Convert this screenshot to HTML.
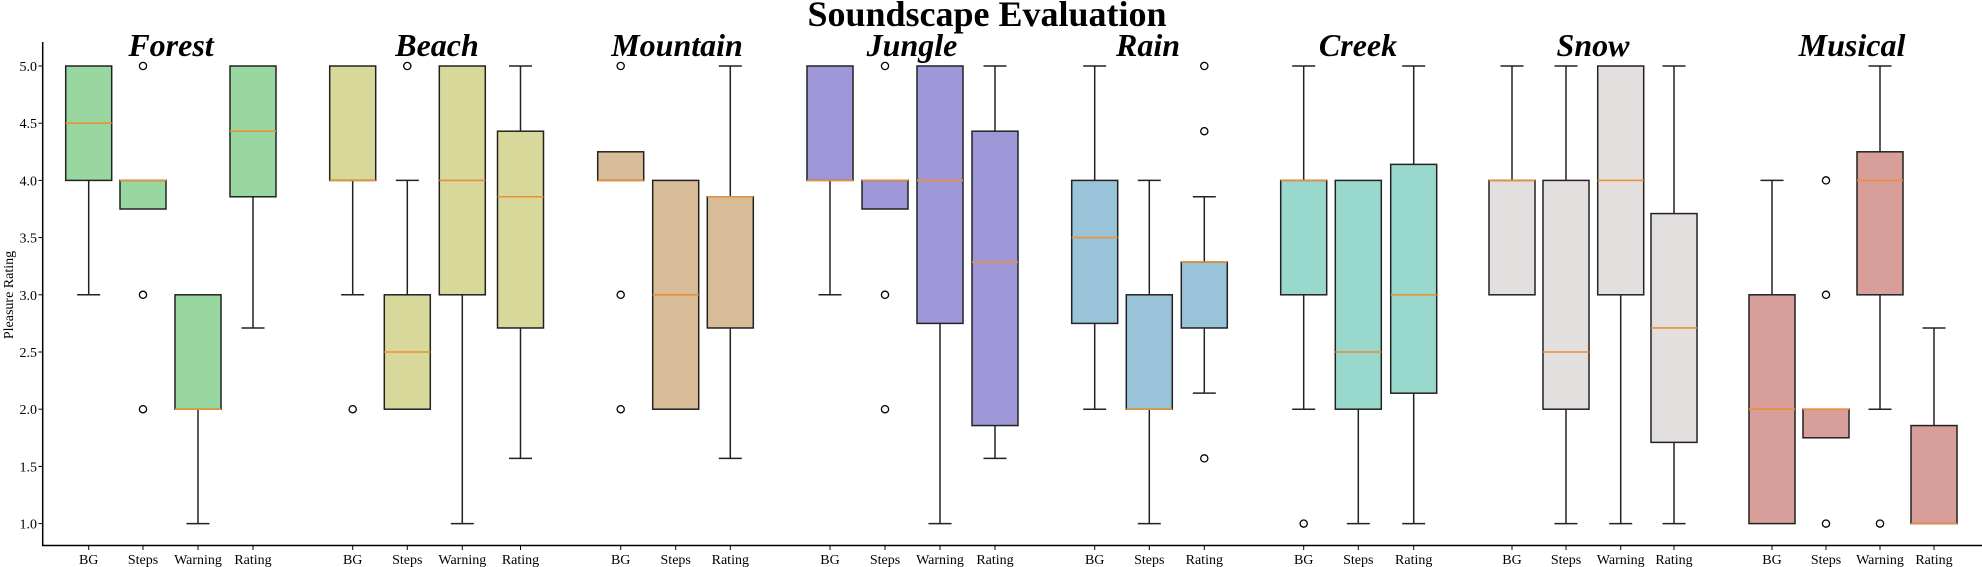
<!DOCTYPE html>
<html><head><meta charset="utf-8"><style>
html,body{margin:0;padding:0;background:#fff;}
svg{display:block;}
text{font-family:"Liberation Serif",serif;}
</style></head><body>
<svg id="s" width="1982" height="567" xmlns="http://www.w3.org/2000/svg"></svg>
<script>
const s=document.getElementById('s');
const NS='http://www.w3.org/2000/svg';
function el(t,a,txt){const e=document.createElementNS(NS,t);for(const k in a)e.setAttribute(k,a[k]);if(txt!==undefined)e.textContent=txt;s.appendChild(e);return e;}
const Y=v=>66+(5-v)*114.4;
// title
el('text',{x:987,y:26,'text-anchor':'middle','font-size':36,'font-weight':'bold'},'Soundscape Evaluation');
// axes
el('line',{x1:42.7,y1:42,x2:42.7,y2:545.5,stroke:'#000','stroke-width':1.5});
el('line',{x1:42,y1:545.5,x2:1982,y2:545.5,stroke:'#000','stroke-width':1.5});
for(let v=1;v<=5.001;v+=0.5){const y=Y(v);el('line',{x1:38.5,y1:y,x2:42.7,y2:y,stroke:'#000','stroke-width':1});
el('text',{x:37,y:y+5,'text-anchor':'end','font-size':14},v.toFixed(1));}
el('text',{x:0,y:0,transform:'translate(13,295) rotate(-90)','text-anchor':'middle','font-size':14},'Pleasure Rating');
const groups=[
['Forest',171,'#98d8a0',[[88.7,'BG',[4,4.5,5,3,5,[]]],[143,'Steps',[3.75,4,4,3.75,4,[5,3,2]]],[198,'Warning',[2,2,3,1,3,[]]],[253,'Rating',[3.857,4.43,5,2.71,5,[]]]]],
['Beach',437,'#d8d89a',[[352.7,'BG',[4,4,5,3,5,[2]]],[407.3,'Steps',[2,2.5,3,2,4,[5]]],[462.3,'Warning',[3,4,5,1,5,[]]],[520.5,'Rating',[2.71,3.857,4.43,1.57,5,[]]]]],
['Mountain',677,'#d8bd98',[[620.7,'BG',[4,4,4.25,4,4.25,[5,3,2]]],[675.7,'Steps',[2,3,4,2,4,[]]],[730.3,'Rating',[2.71,3.857,3.857,1.57,5,[]]]]],
['Jungle',912,'#9e98d8',[[830,'BG',[4,4,5,3,5,[]]],[885,'Steps',[3.75,4,4,3.75,4,[5,3,2]]],[940,'Warning',[2.75,4,5,1,5,[]]],[995,'Rating',[1.857,3.286,4.43,1.57,5,[]]]]],
['Rain',1148,'#99c3d8',[[1094.7,'BG',[2.75,3.5,4,2,5,[]]],[1149.3,'Steps',[2,2,3,1,4,[]]],[1204.3,'Rating',[2.71,3.286,3.286,2.14,3.857,[5,4.43,1.57]]]]],
['Creek',1358,'#99d8cd',[[1303.7,'BG',[3,4,4,2,5,[1]]],[1358.3,'Steps',[2,2.5,4,1,4,[]]],[1413.7,'Rating',[2.14,3,4.14,1,5,[]]]]],
['Snow',1593,'#e4dfdf',[[1512,'BG',[3,4,4,3,5,[]]],[1566,'Steps',[2,2.5,4,1,5,[]]],[1620.7,'Warning',[3,4,5,1,5,[]]],[1674,'Rating',[1.71,2.71,3.71,1,5,[]]]]],
['Musical',1852,'#d89e9a',[[1772,'BG',[1,2,3,1,4,[]]],[1826,'Steps',[1.75,2,2,1.75,2,[4,3,1]]],[1880,'Warning',[3,4,4.25,2,5,[1]]],[1934,'Rating',[1,1,1.857,1,2.71,[]]]]]
];
const hw=23,cw=11.5;
for(const g of groups){
 el('text',{x:g[1],y:56,'text-anchor':'middle','font-size':32,'font-weight':'bold','font-style':'italic'},g[0]);
 for(const b of g[3]){
  const x=b[0],[q1,md,q3,lo,hi,out]=b[2];
  el('line',{x1:x,y1:545.5,x2:x,y2:550,stroke:'#000','stroke-width':1});
  el('text',{x:x,y:564,'text-anchor':'middle','font-size':14},b[1]);
  if(lo<q1){el('line',{x1:x,y1:Y(q1),x2:x,y2:Y(lo),stroke:'#222','stroke-width':1.5});el('line',{x1:x-cw,y1:Y(lo),x2:x+cw,y2:Y(lo),stroke:'#222','stroke-width':1.5});}
  if(hi>q3){el('line',{x1:x,y1:Y(q3),x2:x,y2:Y(hi),stroke:'#222','stroke-width':1.5});el('line',{x1:x-cw,y1:Y(hi),x2:x+cw,y2:Y(hi),stroke:'#222','stroke-width':1.5});}
  el('rect',{x:x-hw,y:Y(q3),width:2*hw,height:Math.max(Y(q1)-Y(q3),0.5),fill:g[2],stroke:'#222','stroke-width':1.5});
  el('line',{x1:x-hw,y1:Y(md),x2:x+hw,y2:Y(md),stroke:'#e8903a','stroke-width':1.6});
  for(const o of out)el('circle',{cx:x,cy:Y(o),r:3.6,fill:'none',stroke:'#000','stroke-width':1.3});
 }
}
</script>
</body></html>
